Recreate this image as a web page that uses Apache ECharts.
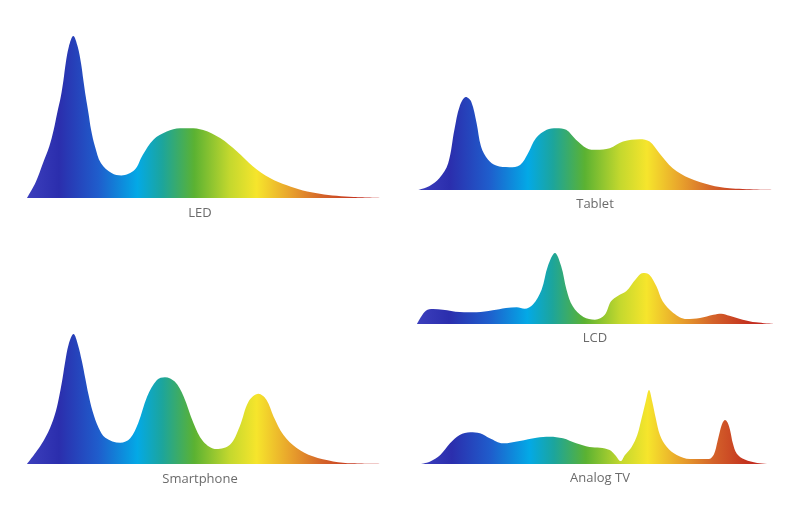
<!DOCTYPE html>
<html>
<head>
<meta charset="utf-8">
<script src="https://cdn.jsdelivr.net/npm/echarts@6/dist/echarts.min.js"></script>
<style>html,body{margin:0;padding:0;background:#fff}#c{width:800px;height:507px}</style>
</head>
<body>
<div id="c"></div>
<script>
// Wavelength (nm) vs relative intensity (% of each panel's tallest peak)
const panelNames = ['LED', 'Tablet', 'LCD', 'Smartphone', 'Analog TV'];

const ledData = [[380,0],[390,10],[398,21.6],[405,31.8],[410,42.1],[414,52.6],[418,62.6],[421,72.9],[423.5,83.2],[427,93.4],[432,100],[437,93.4],[440.7,83.2],[443.3,72.9],[446,62.6],[449,52.6],[452,42.1],[456.4,31.8],[463,21.6],[475,15.4],[486,13.9],[501,17.4],[510,26.5],[522,36],[537,41],[552,43],[563,43.1],[578,42],[597,37],[616,28.7],[634,19.5],[653,12.3],[672,7.8],[690,4.7],[709,2.7],[728,1.4],[747,0.6],[780,0]];

const tabletData = [[380,0],[393,4.3],[404,12.6],[414,28.8],[421,64.7],[427,90],[434,100],[440,95],[446,72],[451,46.8],[459,32.4],[468,26.3],[483,24.5],[495,27],[504,39.6],[513,55.8],[525,64.7],[536,66.5],[547,64.7],[558,54],[570,45],[581,43.2],[596,45],[611,52.2],[630,54.7],[641,52.2],[652,39.6],[667,23.4],[686,12.6],[709,5.4],[731,1.8],[780,0]];

const lcdData = [[380,0],[385,10.8],[390,18.8],[398,21.1],[409,20.2],[428,16.9],[447,16.4],[465,19.2],[480,22.5],[492,23.5],[501,21.6],[510,27.2],[520,48.4],[527,81.2],[535,100],[542,81.2],[548,48.4],[555,24.9],[567,9.9],[580,6.1],[591,13.1],[598,31.9],[606,39.9],[615,46],[626,63.4],[634,71.8],[641,69.5],[649,53],[656,31.9],[668,15.5],[683,7],[698,8.5],[713,13.1],[722,14.6],[731,11.7],[746,6.1],[761,2.3],[780,0]];

const smartphoneData = [[380,0],[396,15],[406,27.9],[412.5,40.7],[416.6,53.4],[420,66.2],[423,79],[426.7,91.8],[432.3,100],[437.2,91.8],[441.7,79],[445.4,66.2],[449.1,53.4],[453.6,40.7],[460.4,27.9],[468,20.2],[484.7,16.3],[496,19.9],[505,31.5],[515,51.9],[526,64.7],[535,66.8],[546,63.4],[556,51.9],[567,31.5],[578,17.4],[593,11.5],[608,14.8],[619,28.9],[629,48.1],[640,54],[649,49.4],[657,36.6],[668,22.5],[683,12.3],[701,5.9],[724,2],[746,0.5],[780,0]];

const analogTvData = [[380,0],[391,3.2],[403,12.2],[414,27.9],[425,39.2],[437,42.8],[448,41.4],[459,34.7],[474,27.9],[493,31.1],[512,35.6],[527,36.9],[542,34.7],[557,27.9],[572,22.9],[584,22],[595,18.9],[601,12.2],[607.4,4],[612.3,12.2],[620,23.4],[626.2,39.2],[631.2,62.2],[635.7,84.2],[639.5,100],[643.2,84.2],[647.1,62.2],[651.9,39.2],[659.5,23.4],[670.9,12.2],[686,6.8],[707,6.8],[713,13],[717,30],[720,45],[723,56],[725.6,59.5],[728.5,56],[731.5,45],[734.5,28],[739,14],[748,6],[762,1.5],[780,0]];

const allData = [ledData, tabletData, lcdData, smartphoneData, analogTvData];

// layout per panel: grid box (left, top = peak y, width, height) and label position
const grids = [
  {left: 27,  top: 36,  width: 356, height: 162, lx: 200, ly: 213},
  {left: 418, top: 97,  width: 355, height: 93,  lx: 595, ly: 204},
  {left: 417, top: 253, width: 356, height: 71,  lx: 595, ly: 338},
  {left: 27,  top: 334, width: 356, height: 130, lx: 200, ly: 479},
  {left: 420, top: 390, width: 353, height: 74,  lx: 600, ly: 478}
];

const spectrum = [
  {offset: 0.00, color: '#3c3fbd'},
  {offset: 0.09, color: '#2b2ead'},
  {offset: 0.20, color: '#1f5dcc'},
  {offset: 0.31, color: '#03a9e6'},
  {offset: 0.38, color: '#1ca59c'},
  {offset: 0.47, color: '#5bb232'},
  {offset: 0.57, color: '#c4d82e'},
  {offset: 0.645, color: '#f6e52c'},
  {offset: 0.74, color: '#e8a22c'},
  {offset: 0.83, color: '#d4632a'},
  {offset: 0.93, color: '#c3311f'},
  {offset: 1.00, color: '#c42424'}
];

const chart = echarts.init(document.getElementById('c'), null, {renderer: 'canvas'});
const option = {
  animation: false,
  backgroundColor: '#ffffff',
  grid: grids.map(g => ({left: g.left, top: g.top, width: g.width, height: g.height})),
  xAxis: grids.map((g, i) => ({type: 'value', gridIndex: i, min: 380, max: 780, show: false})),
  yAxis: grids.map((g, i) => ({type: 'value', gridIndex: i, min: 0, max: 100, show: false})),
  series: allData.map((d, i) => ({
    type: 'line',
    xAxisIndex: i,
    yAxisIndex: i,
    data: d,
    smooth: 0.35,
    showSymbol: false,
    lineStyle: {width: 0},
    areaStyle: {opacity: 1, color: new echarts.graphic.LinearGradient(0, 0, 1, 0, spectrum)}
  })),
  graphic: grids.map((g, i) => ({
    type: 'text',
    x: g.lx,
    y: g.ly,
    style: {
      text: panelNames[i],
      fill: '#6b6b6b',
      font: '13px "Open Sans", sans-serif',
      textAlign: 'center',
      textVerticalAlign: 'middle'
    }
  }))
};
chart.setOption(option);
</script>
</body>
</html>
